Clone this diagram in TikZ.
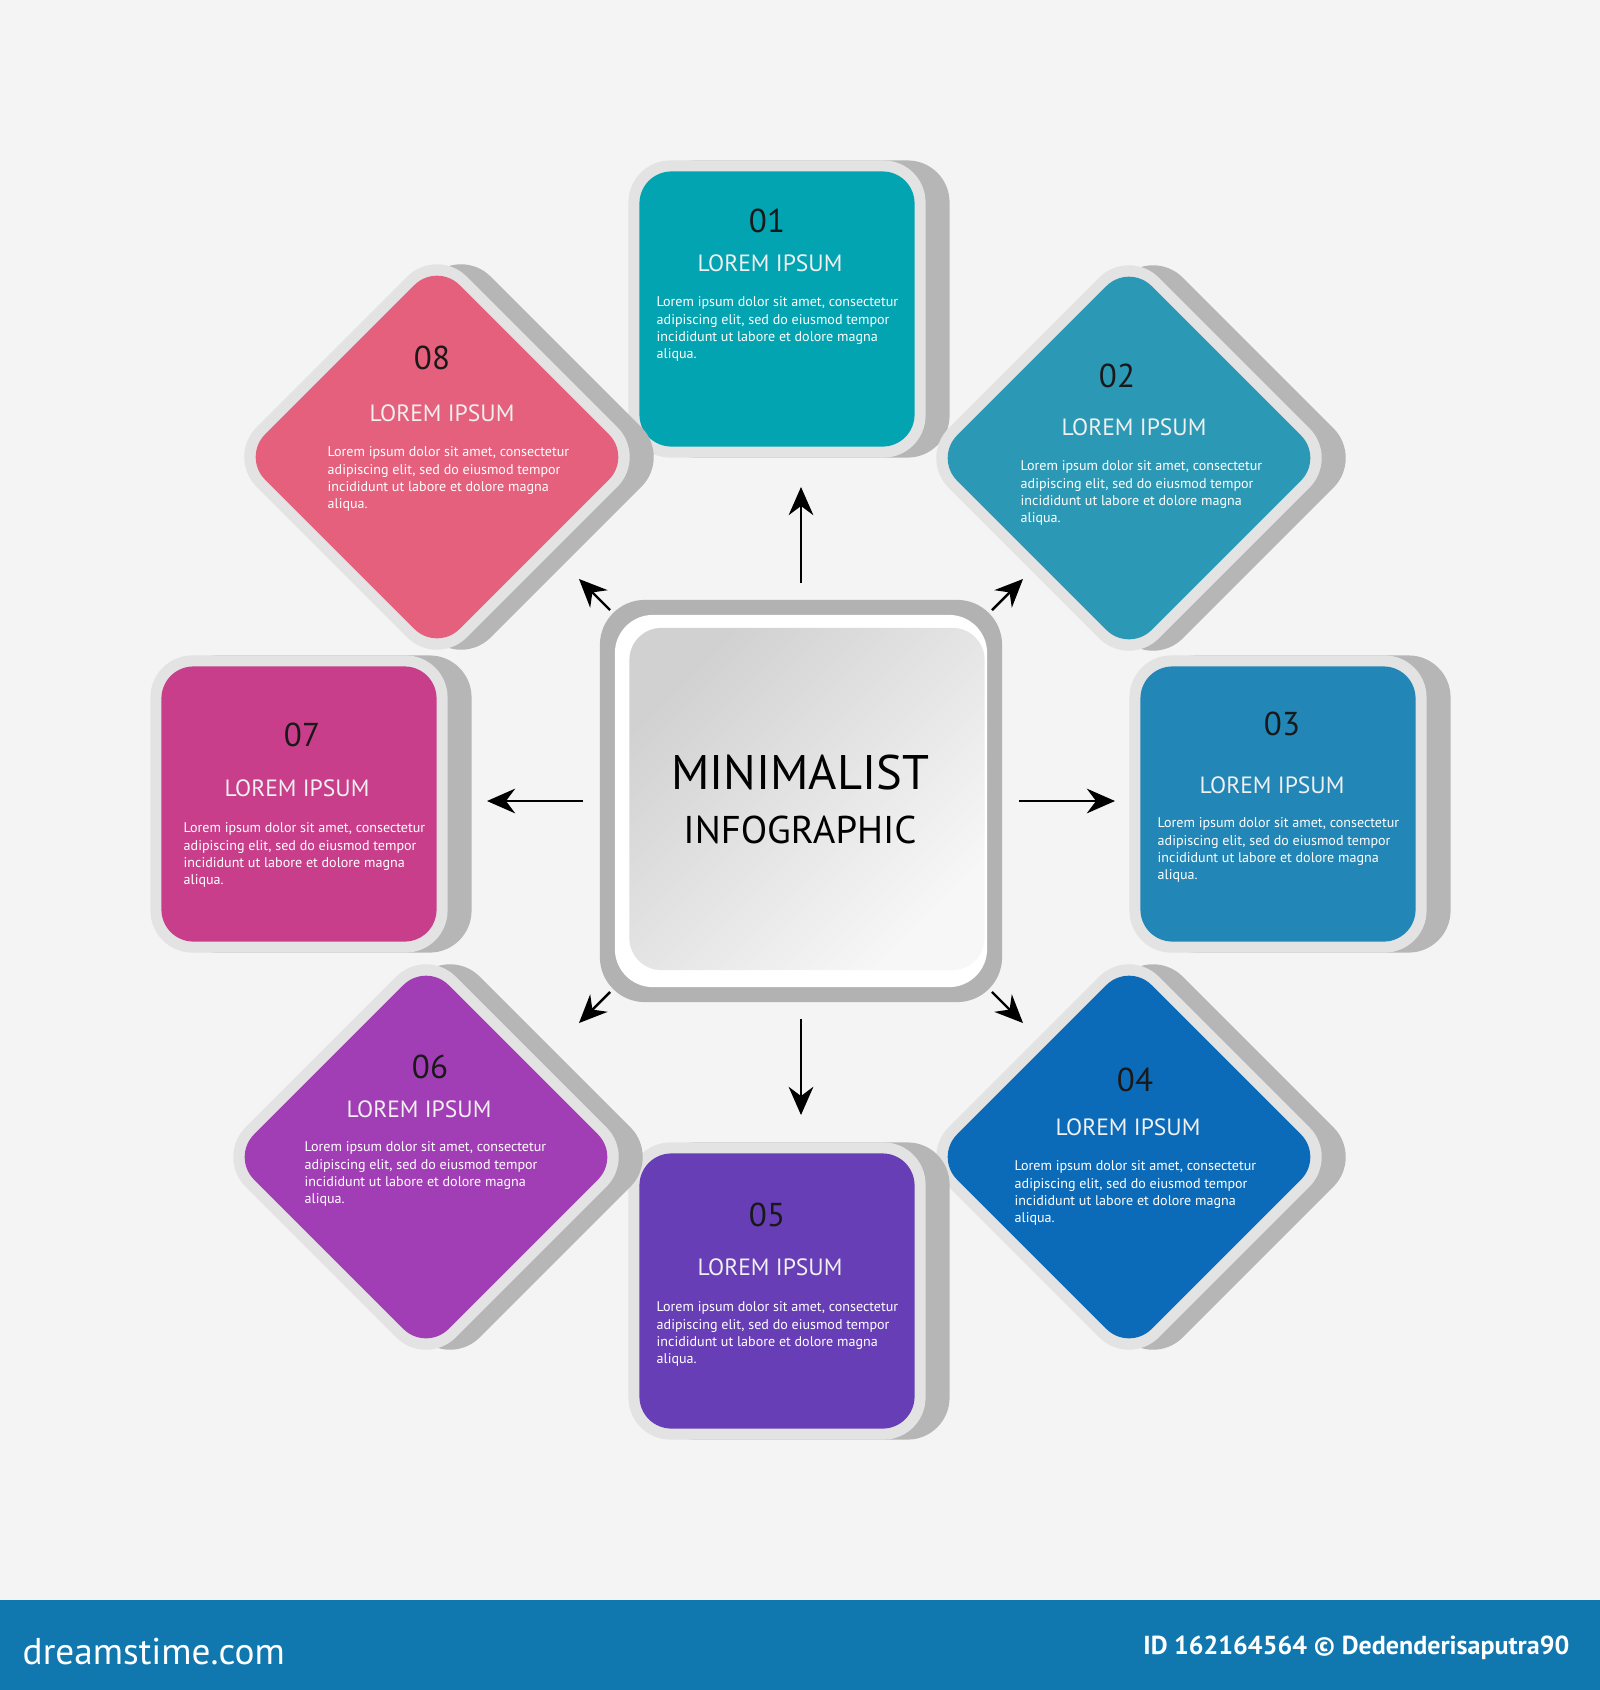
\documentclass[tikz,border=0pt]{standalone}
\usepackage{fontspec}
\setmainfont{PT Sans}
\usetikzlibrary{arrows.meta,calc,shapes}

\definecolor{bgcol}{HTML}{F4F4F4}
\definecolor{bannercol}{HTML}{1177AF}
\definecolor{rimgray}{HTML}{E3E3E3}
\definecolor{backgray}{HTML}{B6B6B6}
\definecolor{col01}{HTML}{02A4B1}
\definecolor{col02}{HTML}{2B99B5}
\definecolor{col03}{HTML}{2286B6}
\definecolor{col04}{HTML}{0C6BB9}
\definecolor{col05}{HTML}{673EB6}
\definecolor{col06}{HTML}{A23EB5}
\definecolor{col07}{HTML}{C93E8A}
\definecolor{col08}{HTML}{E5607C}

\newcommand{\loremtext}{Lorem ipsum dolor sit amet, consectetur\\adipiscing elit, sed do eiusmod tempor\\incididunt ut labore et dolore magna\\aliqua.}

\begin{document}
\begin{tikzpicture}[x=0.01cm,y=-0.01cm,
  card/.style={rectangle,rounded corners=0.32cm,minimum size=2.75cm,inner sep=0},
  rim/.style={rectangle,rounded corners=0.42cm,minimum size=2.97cm,inner sep=0,fill=rimgray},
  backrim/.style={rim,fill=backgray},
  num/.style={font=\fontsize{9.4}{11}\selectfont,text=black!90,inner sep=0},
  title/.style={font=\fontsize{6.7}{8}\selectfont,text=white!94!black,inner sep=0},
  body/.style={font=\fontsize{4.0}{4.95}\selectfont,text=white,align=left,anchor=north west,inner sep=0},
  arr/.style={line width=0.7pt,-{Stealth[length=8pt,width=7pt]}}]
  \useasboundingbox (0,0) rectangle (1600,1690);
  \fill[bgcol] (0,0) rectangle (1600,1600);
  \fill[bannercol] (0,1600) rectangle (1600,1690);

  % the eight cards
  \foreach \i/\x/\y/\a in {01/777/309/0, 02/1129/458/45, 03/1278/804/0, 04/1129/1157/45,
                           05/777/1291/0, 06/426/1157/45, 07/299/804/0, 08/437/457/45}{
    \node[backrim,rotate=\a] (s\i) at (\x+24,\y) {};
    \node[rim,rotate=\a] (f\i) at (\x,\y) {};
    \node[card,fill=col\i,rotate=\a] (b\i) at (\x,\y) {};
  }
  \foreach \i/\nx/\ny/\tx/\ty/\bx/\by in {01/767/221/770/263/656/296, 02/1117/376/1134/427/1020/460,
           03/1282/724/1272/785/1157/817, 04/1135/1080/1128/1127/1014/1160,
           05/767/1215/770/1267/656/1301, 06/430/1067/419/1109/304/1141,
           07/302/735/297/788/183/822, 08/432/358/442/413/327/446}{
    \node[num] (n\i) at (\nx,\ny) {\i};
    \node[title] (t\i) at (\tx,\ty) {LOREM IPSUM};
    \node[body] (d\i) at (\bx,\by) {\loremtext};
  }

  % centre block
  \node[rectangle,fill=black!30,rounded corners=0.45cm,minimum size=4.02cm] (cf) at (801,801) {};
  \node[rectangle,fill=white,rounded corners=0.38cm,minimum size=3.72cm] (cw) at (801,801) {};
  \node[rectangle,rounded corners=0.32cm,minimum width=3.55cm,minimum height=3.42cm,
        top color=black!18,bottom color=white!97!black,shading angle=45] (c) at (807,799) {};
  \node[font=\fontsize{13.8}{16}\selectfont,inner sep=0] (m1) at (800,773) {MINIMALIST};
  \node[font=\fontsize{11}{13}\selectfont,inner sep=0] (m2) at (800,830) {INFOGRAPHIC};

  % arrows
  \foreach \a/\r in {0/218, 45/270, 90/218, 135/270, 180/218, 225/270, 270/218, 315/270}{
    \coordinate (p\a) at ($(801,801)+(\a:\r)$);
    \coordinate (q\a) at ($(801,801)+(\a:314)$);
    \draw[arr] (p\a) -- (q\a);
  }

  % banner
  \node[font=\fontsize{10.6}{13}\selectfont,text=white,anchor=west,inner sep=0] (ds) at (22,1652) {dreamstime.com};
  \node[font=\bfseries\fontsize{7.4}{9}\selectfont,text=white,anchor=east,inner sep=0] (id) at (1570,1648) {ID 162164564 © Dedenderisaputra90};
\end{tikzpicture}
\end{document}
